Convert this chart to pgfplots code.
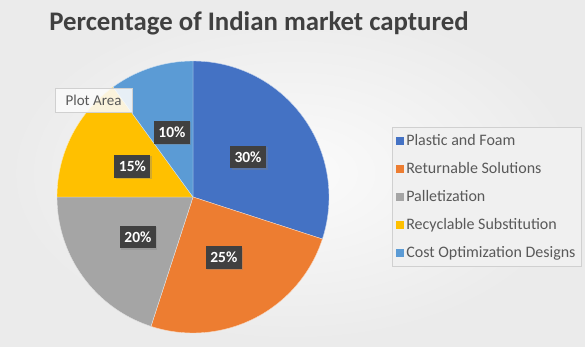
\documentclass[border=0pt]{standalone}
\usepackage{pgfplots}
\pgfplotsset{compat=1.18}
\usepackage{fontspec}
\setmainfont{Carlito}
\usetikzlibrary{shadows}
\definecolor{cA}{HTML}{4472C4}
\definecolor{cB}{HTML}{ED7D31}
\definecolor{cC}{HTML}{A5A5A5}
\definecolor{cD}{HTML}{FFC000}
\definecolor{cE}{HTML}{5B9BD5}
\definecolor{lbl}{HTML}{404040}
\definecolor{txt}{HTML}{595959}
\definecolor{edge}{HTML}{D0D0D0}
\definecolor{legfill}{HTML}{F0F0F0}
% data (percent)
\def\vA{30}\def\vB{25}\def\vC{20}\def\vD{15}\def\vE{10}
\pgfmathsetmacro\aA{90}
\pgfmathsetmacro\aB{\aA-3.6*\vA}
\pgfmathsetmacro\aC{\aB-3.6*\vB}
\pgfmathsetmacro\aD{\aC-3.6*\vC}
\pgfmathsetmacro\aE{\aD-3.6*\vD}
\pgfmathsetmacro\aF{\aE-3.6*\vE}
\pgfmathsetmacro\mA{(\aA+\aB)/2}
\pgfmathsetmacro\mB{(\aB+\aC)/2}
\pgfmathsetmacro\mC{(\aC+\aD)/2}
\pgfmathsetmacro\mD{(\aD+\aE)/2}
\pgfmathsetmacro\mE{(\aE+\aF)/2}
\begin{document}
\begin{tikzpicture}[x=1pt,y=1pt]
\shade[inner color=white!97!gray, outer color=white!84!gray] (0,0) rectangle (585,346);
\useasboundingbox (0,0) rectangle (585,346);
\node[font=\bfseries\fontsize{26.8}{30}\selectfont, text=lbl] at (259,323) {Percentage of Indian market captured};
\begin{axis}[
  at={(193pt,149pt)}, anchor=center,
  width=272pt, height=272pt, scale only axis,
  xmin=-1, xmax=1, ymin=-1, ymax=1,
  hide axis, clip=false,
  legend style={at={(1.232,0.757)}, anchor=north west, draw=edge, fill=legfill,
     font=\fontsize{16}{18}\selectfont, text=txt, row sep=11.5pt, inner xsep=4pt, inner ysep=5pt},
  legend cell align=left,
  legend image code/.code={\fill[#1,draw=none] (0pt,-4pt) rectangle (8pt,4pt);},
  pie/.style={draw=white!70!#1, line width=0.4pt, fill=#1, samples=80, variable=\t},
]
\addplot[pie=cA, domain=\aB:\aA] ({cos(\t)},{sin(\t)}) -- (axis cs:0,0) -- cycle;
\addlegendentry{Plastic and Foam}
\addplot[pie=cB, domain=\aC:\aB] ({cos(\t)},{sin(\t)}) -- (axis cs:0,0) -- cycle;
\addlegendentry{Returnable Solutions}
\addplot[pie=cC, domain=\aD:\aC] ({cos(\t)},{sin(\t)}) -- (axis cs:0,0) -- cycle;
\addlegendentry{Palletization}
\addplot[pie=cD, domain=\aE:\aD] ({cos(\t)},{sin(\t)}) -- (axis cs:0,0) -- cycle;
\addlegendentry{Recyclable Substitution}
\addplot[pie=cE, domain=\aF:\aE] ({cos(\t)},{sin(\t)}) -- (axis cs:0,0) -- cycle;
\addlegendentry{Cost Optimization Designs}
\tikzset{lb/.style={fill=lbl, text=white, font=\bfseries\fontsize{15.5}{17}\selectfont, inner xsep=4.5pt, inner ysep=6pt, drop shadow={opacity=0.35, shadow xshift=1.5pt, shadow yshift=-1.5pt}}}
\node[lb] at (axis cs:{0.5*cos(\mA)},{0.5*sin(\mA)}) {\vA\%};
\node[lb] at (axis cs:{0.5*cos(\mB)},{0.5*sin(\mB)}) {\vB\%};
\node[lb] at (axis cs:{0.5*cos(\mC)},{0.5*sin(\mC)}) {\vC\%};
\node[lb] at (axis cs:{0.5*cos(\mD)},{0.5*sin(\mD)}) {\vD\%};
\node[lb] at (axis cs:{0.5*cos(\mE)},{0.5*sin(\mE)}) {\vE\%};
\end{axis}
\node[draw=edge, fill=white, fill opacity=0.85, text opacity=1, text=txt, font=\fontsize{15}{17}\selectfont,
  inner xsep=5pt, inner ysep=4pt, minimum width=77pt, minimum height=24pt,
  drop shadow={opacity=0.2, shadow xshift=1pt, shadow yshift=-1pt}] at (93.5,246) {Plot Area};
\end{tikzpicture}
\end{document}
